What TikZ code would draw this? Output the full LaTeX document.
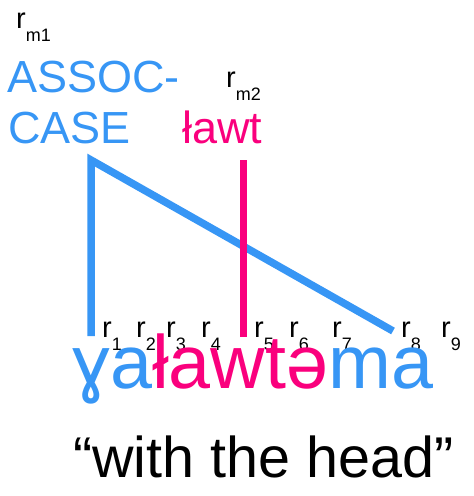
\documentclass[tikz,border=0pt]{standalone}
\usepackage{fontspec}
\setmainfont{Liberation Sans}
\definecolor{ablue}{RGB}{55,150,245}
\definecolor{apink}{RGB}{250,0,125}
\newcommand{\rlab}[1]{r\raisebox{-13pt}{\fontsize{18}{18}\selectfont #1}}
\tikzset{
  rtxt/.style={anchor=base west, inner sep=0pt, font=\fontsize{29}{29}\selectfont},
  gloss/.style={anchor=base west, inner sep=0pt, font=\fontsize{45}{45}\selectfont},
  link/.style={line width=7.5pt, line join=miter},
}
\begin{document}
\begin{tikzpicture}[x=1pt,y=-1pt]
\useasboundingbox (0,0) rectangle (474,496);
% top labels
\node[rtxt] (rm1) at (16,28) {\rlab{m1}};
\node[gloss, text=ablue, align=left] (assoc) at (7,92) {ASSOC-};
\node[gloss, text=ablue] (case) at (8,143) {CASE};
\node[rtxt] (rm2) at (226,87) {\rlab{m2}};
\node[gloss, text=apink] (lawt) at (182,143) {ławt};
% connectors
\coordinate (bcorner) at (91,160);
\coordinate (bbottom) at (91,336);
\coordinate (bend) at (393,331);
\coordinate (ptop) at (243.5,160);
\coordinate (pbottom) at (243.5,337);
\draw[link, ablue] (bbottom) -- (bcorner) -- (bend);
\draw[link, apink] (ptop) -- (pbottom);
% r labels
\node[rtxt] (r1) at (102,337) {\rlab{1}};
\node[rtxt] (r2) at (136,337) {\rlab{2}};
\node[rtxt] (r3) at (166,337) {\rlab{3}};
\node[rtxt] (r4) at (201,337) {\rlab{4}};
\node[rtxt] (r5) at (254,337) {\rlab{5}};
\node[rtxt] (r6) at (289,337) {\rlab{6}};
\node[rtxt] (r7) at (332,337) {\rlab{7}};
\node[rtxt] (r8) at (401,337) {\rlab{8}};
\node[rtxt] (r9) at (441,337) {\rlab{9}};
% word
\node[anchor=base west, inner sep=0pt, font=\fontsize{75.5}{75.5}\selectfont] (word) at (72,388)
  {\textcolor{ablue}{ɣa}\textcolor{apink}{ławtə}\textcolor{ablue}{ma}};
\node[anchor=base west, inner sep=0pt, font=\fontsize{57.5}{57.5}\selectfont] (trans) at (73,477)
  {“with the head”};
\end{tikzpicture}
\end{document}
